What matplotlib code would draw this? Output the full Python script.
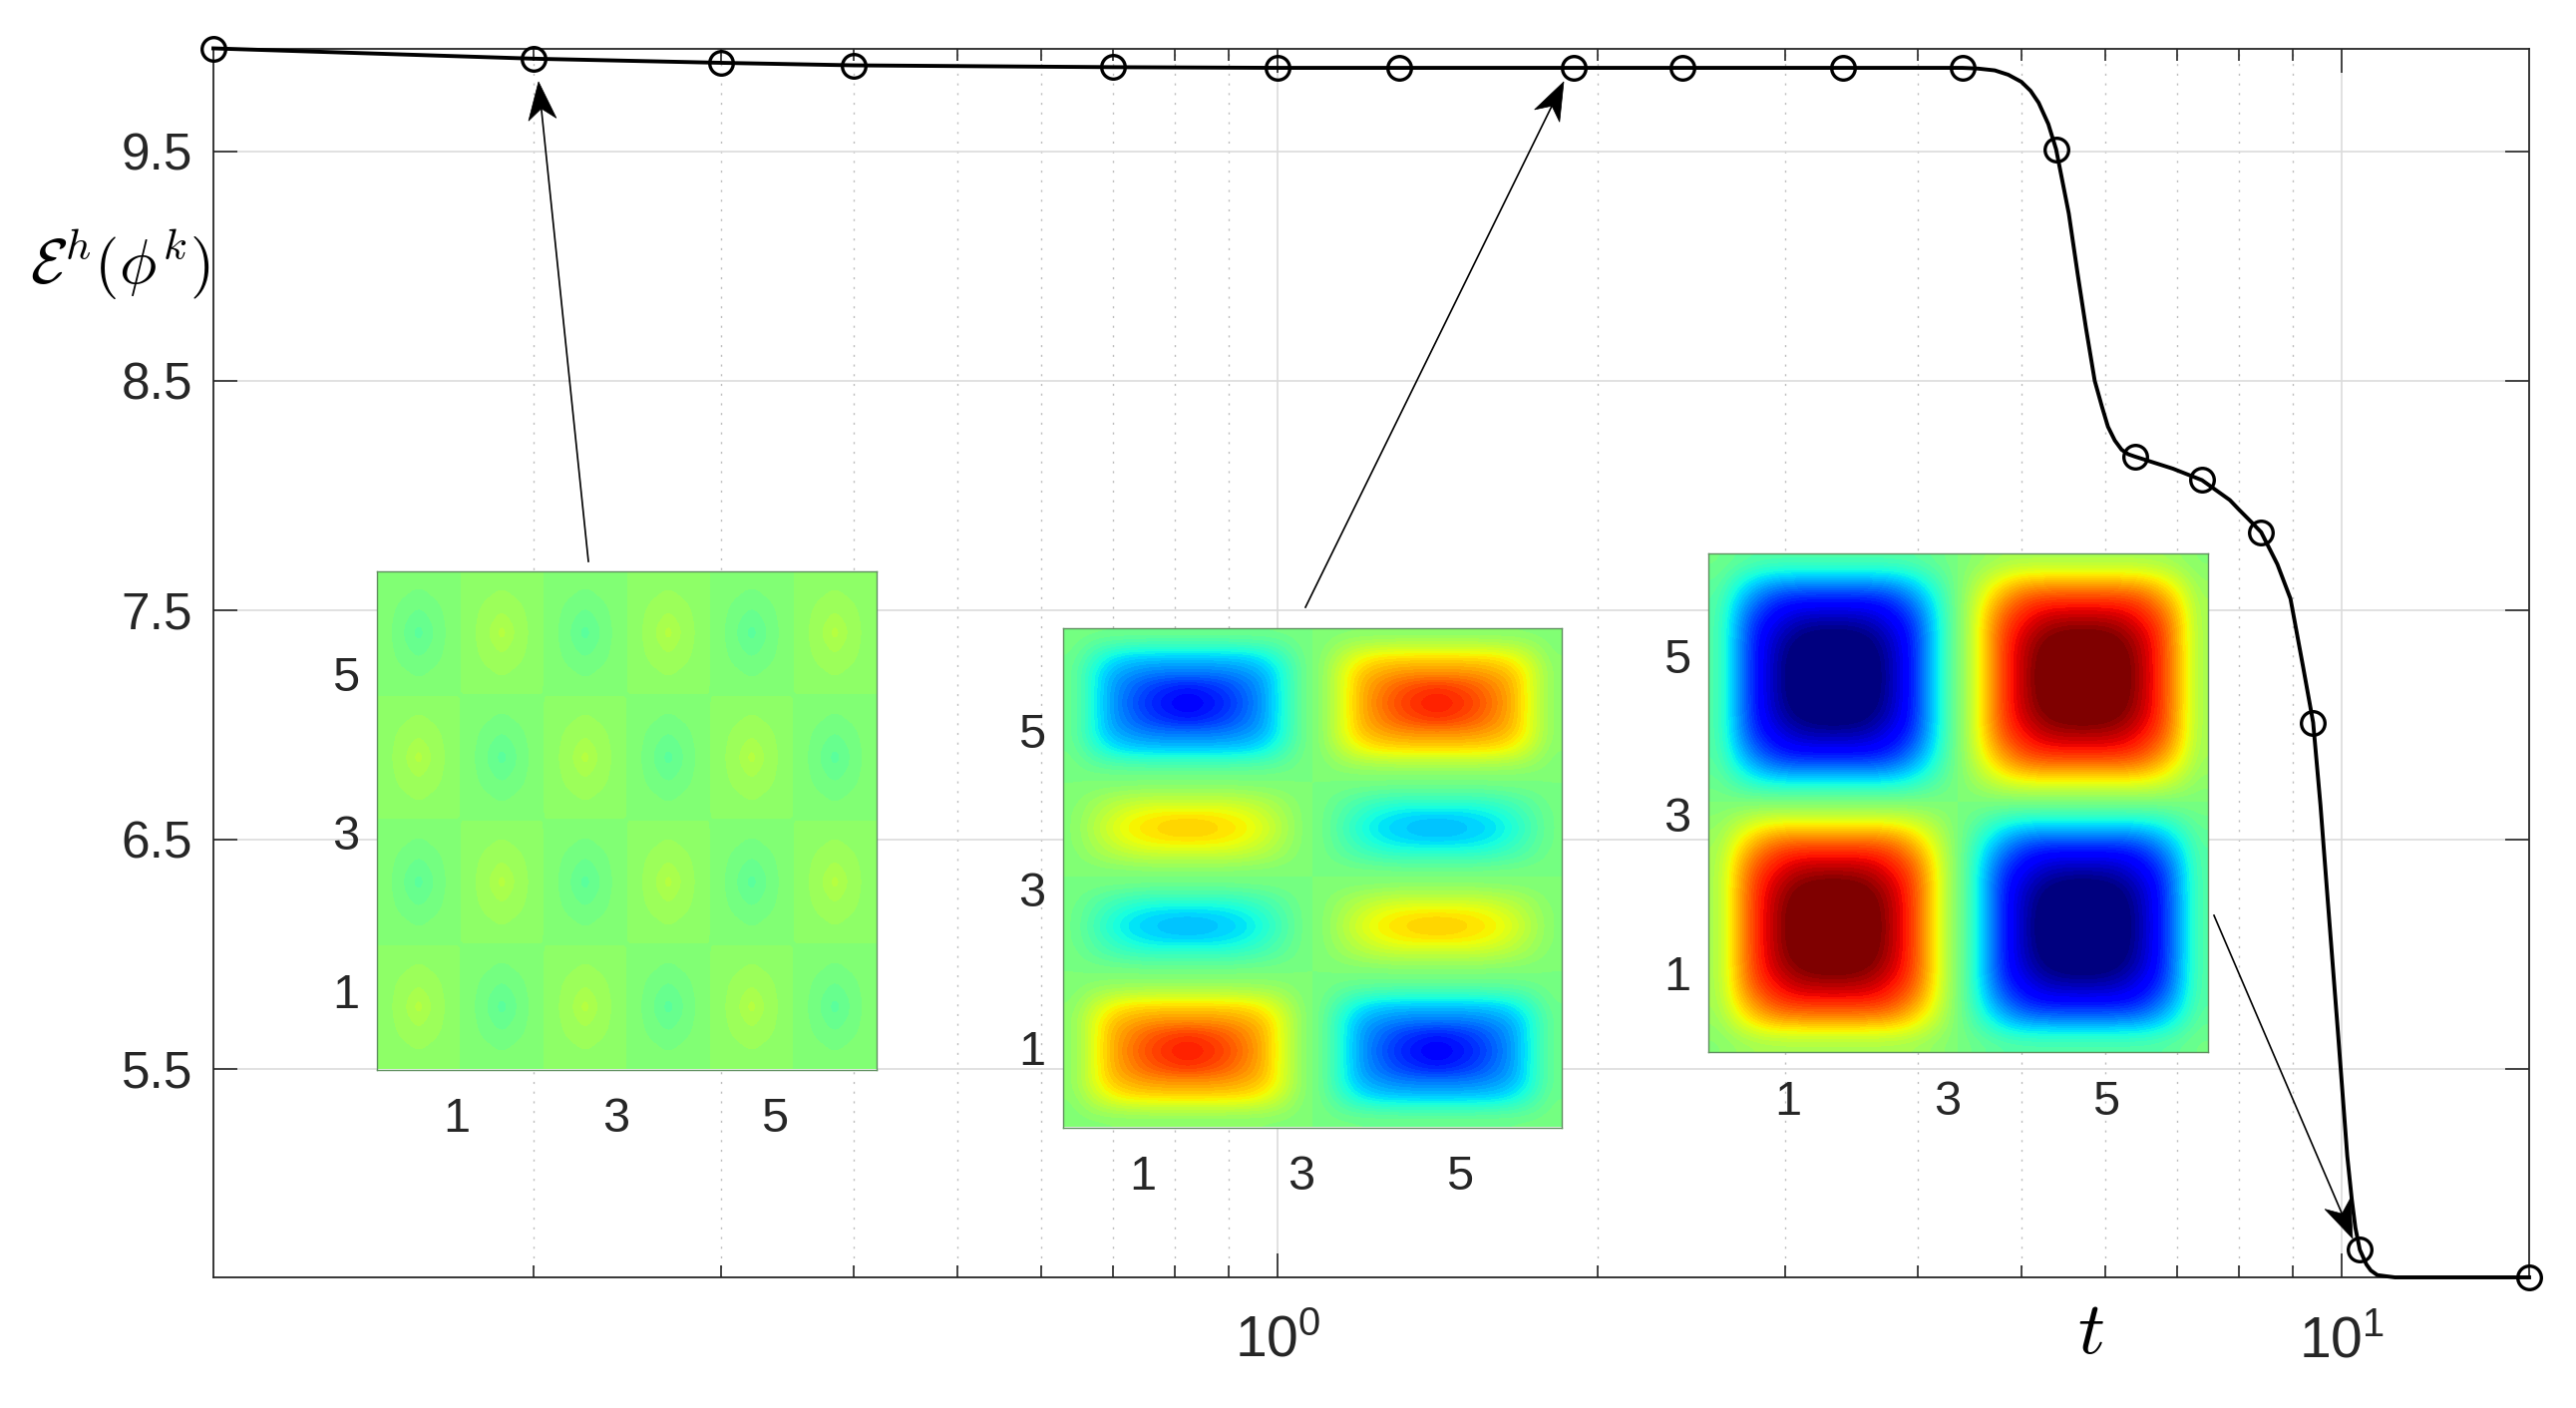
import numpy as np
import matplotlib
matplotlib.use('Agg')
import matplotlib.pyplot as plt
from matplotlib.lines import Line2D
from matplotlib.patches import Polygon
from matplotlib.ticker import LogLocator, NullFormatter

plt.rcParams['font.family'] = ['Liberation Sans', 'DejaVu Sans']

W, H = 2583, 1412
TEXT = '#262626'

# energy curve
t_curve = [0.1, 0.2, 0.3, 0.4, 0.7, 1.0, 1.3, 1.9, 2.4, 3.4, 4.0, 4.4, 4.55, 4.72, 4.86, 5.0, 5.1, 5.19, 5.3,
           5.39, 5.54, 5.65, 5.75, 5.86, 5.95, 6.03, 6.12, 6.21, 6.3, 6.39, 6.94, 7.39, 7.85, 8.0, 8.2, 8.4,
           8.7, 8.95, 9.2, 9.4, 9.55, 9.696, 9.93, 10.12, 10.22, 10.3, 10.4, 10.55, 10.65, 10.8, 11.0, 11.22,
           12.0, 15.0]
e_curve = [9.95, 9.905, 9.887, 9.876, 9.868, 9.865, 9.865, 9.865, 9.865, 9.865, 9.865, 9.865, 9.862, 9.854,
           9.835, 9.804, 9.765, 9.713, 9.62, 9.51, 9.23, 8.96, 8.73, 8.5, 8.39, 8.3, 8.24, 8.2, 8.18, 8.17,
           8.117, 8.067, 7.98, 7.94, 7.89, 7.84, 7.7, 7.55, 7.25, 7.01, 6.65, 6.25, 5.628, 5.12, 4.93, 4.806,
           4.71, 4.646, 4.62, 4.6, 4.595, 4.59, 4.59, 4.59]

t_marks = [0.1, 0.2, 0.3, 0.4, 0.7, 1.0, 1.3, 1.9, 2.4, 3.4, 4.4, 5.39, 6.39, 7.39, 8.4, 9.4, 10.4, 15.0]
e_marks = [9.95, 9.905, 9.887, 9.876, 9.868, 9.865, 9.865, 9.865, 9.865, 9.865, 9.865, 9.51, 8.17,
           8.067, 7.84, 7.01, 4.71, 4.59]

y_ticks = [5.5, 6.5, 7.5, 8.5, 9.5]
inset_ticks = [1, 3, 5]

# one quarter of a lobe, rows and columns run from lobe edge to lobe centre
lobe_small = [[.012, .012, .012, .012, .012, .012, .012],
              [.012, .012, .013, .014, .014, .015, .015],
              [.013, .014, .015, .016, .02, .04, .05],
              [.014, .015, .016, .03, .058, .06, .06],
              [.014, .015, .02, .058, .06, .06, .062],
              [.014, .015, .03, .06, .06, .065, .085],
              [.014, .015, .035, .06, .06, .085, .13]]
signs_small = [[-1, 1, -1, 1, -1, 1],
               [1, -1, 1, -1, 1, -1],
               [-1, 1, -1, 1, -1, 1],
               [1, -1, 1, -1, 1, -1]]
small_shift = 0.03

lobe_wide = [[.01, .02, .03, .03, .03, .03, .03],
             [.01, .06, .09, .1, .11, .11, .11],
             [.02, .11, .18, .21, .22, .22, .22],
             [.03, .16, .28, .34, .35, .36, .36],
             [.04, .2, .35, .41, .44, .45, .45],
             [.04, .22, .4, .47, .52, .54, .55],
             [.04, .22, .42, .52, .6, .65, .68],
             [.04, .22, .43, .54, .64, .7, .74],
             [.04, .22, .43, .56, .66, .72, .76]]
lobe_flat = [[0, .01, .01, .01, .02, .02, .02],
             [.01, .03, .06, .08, .09, .09, .09],
             [.01, .07, .12, .15, .17, .17, .17],
             [.02, .09, .16, .22, .26, .27, .27],
             [.02, .11, .2, .28, .32, .35, .36],
             [.02, .12, .22, .3, .34, .365, .38]]

lobe_big = [[.02, .06, .09, .1, .1, .1, .1],
            [.06, .2, .33, .4, .42, .42, .42],
            [.09, .33, .52, .66, .71, .72, .72],
            [.1, .4, .66, .78, .87, .9, .9],
            [.1, .42, .71, .87, .98, 1.03, 1.05],
            [.1, .42, .72, .9, 1.03, 1.15, 1.2],
            [.1, .42, .72, .9, 1.05, 1.2, 1.25]]
signs_big = [[-1, 1],
             [1, -1]]

# tail and tip of each arrow, in picture pixels
arrows = [((590, 563), (540, 82)), ((1309, 609), (1568, 82)), ((2220, 918), (2359, 1242))]


def mirror(q):
    q = np.array(q, dtype=float)
    top = np.hstack([q, q[:, -2::-1]])
    return np.vstack([top, top[-2::-1]])


def tile(rows):
    # rows is a list of (lobe, signs of that row), top row first
    return np.vstack([np.hstack([s * mirror(q) for s in signs]) for q, signs in rows])


field_small = tile([(lobe_small, r) for r in signs_small]) + small_shift
field_mid = tile([(lobe_wide, [-1, 1]), (lobe_flat, [1, -1]), (lobe_flat, [-1, 1]), (lobe_wide, [1, -1])])
field_big = tile([(lobe_big, r) for r in signs_big])


def px(x, y):
    return x / W, 1 - y / H


def box(left, top, right, bottom):
    return [left / W, 1 - bottom / H, (right - left) / W, (bottom - top) / H]


def draw_arrow(tail, tip, length=38, half=14, notch=11):
    tail = np.array(tail, dtype=float)
    tip = np.array(tip, dtype=float)
    d = (tip - tail) / np.hypot(*(tip - tail))
    n = np.array([-d[1], d[0]])
    back = tip - d * length
    pts = [tip, back + n * half, tip - d * (length - notch), back - n * half]
    fig.add_artist(Line2D(*zip(px(*tail), px(*(tip - d * 20))), color='k', lw=1.2,
                          transform=fig.transFigure, zorder=7))
    fig.add_artist(Polygon([px(*p) for p in pts], closed=True, fc='k', ec='k', lw=0.5,
                           transform=fig.transFigure, zorder=7))


fig = plt.figure(figsize=(W / 100, H / 100), dpi=100)
ax = fig.add_axes(box(214, 48.5, 2536, 1281))

ax.semilogx(t_curve, e_curve, color='k', lw=2.8, clip_on=False, zorder=5)
ax.plot(t_marks, e_marks, 'o', mfc='none', mec='k', mew=2.4, ms=17, clip_on=False, zorder=6)

ax.set_xlim(0.1, 15)
ax.set_ylim(4.59, 9.95)
ax.set_yticks(y_ticks)
ax.set_yticklabels([str(v) for v in y_ticks])
ax.set_xticks([1, 10])
ax.set_xticklabels([r'$\mathregular{10^{0}}$', r'$\mathregular{10^{1}}$'])
ax.xaxis.set_minor_locator(LogLocator(base=10, subs=range(2, 10)))
ax.xaxis.set_minor_formatter(NullFormatter())

ax.grid(True, which='major', color='#dcdcdc', lw=1.2)
ax.grid(True, which='minor', axis='x', color='#bdbdbd', lw=1, linestyle=(0, (1.5, 5.5)))
ax.set_axisbelow(True)

ax.tick_params(axis='y', which='major', direction='in', length=17, width=1.2, pad=15,
               labelsize=37, labelcolor=TEXT, left=True, right=True, color=TEXT)
ax.tick_params(axis='x', which='major', direction='in', length=17, width=1.2, pad=27,
               labelsize=41, labelcolor=TEXT, top=True, bottom=True, color=TEXT)
ax.tick_params(axis='x', which='minor', direction='in', length=8.5, width=1.2, top=True, bottom=True, color=TEXT)
for s in ax.spines.values():
    s.set_color(TEXT)
    s.set_linewidth(1.3)

fig.text(*px(120, 266), r'$\mathcal{E}^h(\phi^k)$', fontsize=45, ha='center', va='center', math_fontfamily='cm')
fig.text(*px(2096, 1338), r'$t$', fontsize=54, ha='center', va='center', math_fontfamily='cm')

for tail, tip in arrows:
    draw_arrow(tail, tip)

insets = [(field_small, (378, 573, 879, 1072.5), 64),
          (field_mid, (1066, 630, 1566, 1130.5), 64),
          (field_big, (1713, 555, 2214, 1055), 64)]
for field, pos, levels in insets:
    iax = fig.add_axes(box(*pos), zorder=3)
    iax.imshow(field, cmap=plt.get_cmap('jet', levels), vmin=-1, vmax=1, aspect='auto',
               extent=[0, 2 * np.pi, 0, 2 * np.pi], interpolation='bicubic', interpolation_stage='data')
    iax.set_xticks(inset_ticks)
    iax.set_yticks(inset_ticks)
    iax.tick_params(length=0, labelsize=35, labelcolor=TEXT)
    iax.tick_params(axis='x', pad=20)
    iax.tick_params(axis='y', pad=13)
    for s in iax.spines.values():
        s.set_color('#5f8f5f')
        s.set_linewidth(1)

fig.savefig('out.png', dpi=100)
